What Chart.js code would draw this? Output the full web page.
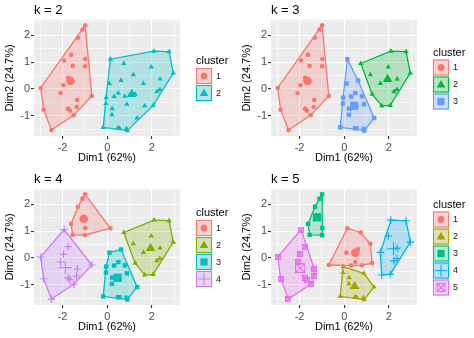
<!DOCTYPE html>
<html>
<head>
<meta charset="utf-8">
<script src="https://cdn.jsdelivr.net/npm/chart.js@4.4.1/dist/chart.umd.min.js"></script>
<style>
  body { margin: 0; background: #fff; }
  #wrap { position: relative; width: 474px; height: 338px; }
  #wrap canvas { position: absolute; }
</style>
</head>
<body>
<div id="wrap">
  <canvas id="k2" width="237" height="169" style="left:0;top:0"></canvas>
  <canvas id="k3" width="237" height="169" style="left:237px;top:0"></canvas>
  <canvas id="k4" width="237" height="169" style="left:0;top:169px"></canvas>
  <canvas id="k5" width="237" height="169" style="left:237px;top:169px"></canvas>
</div>
<script>
// PCA scores of the 50 states (first two components)
const states = ['Alabama','Alaska','Arizona','Arkansas','California','Colorado','Connecticut','Delaware','Florida','Georgia',
  'Hawaii','Idaho','Illinois','Indiana','Iowa','Kansas','Kentucky','Louisiana','Maine','Maryland',
  'Massachusetts','Michigan','Minnesota','Mississippi','Missouri','Montana','Nebraska','Nevada','New Hampshire','New Jersey',
  'New Mexico','New York','North Carolina','North Dakota','Ohio','Oklahoma','Oregon','Pennsylvania','Rhode Island','South Carolina',
  'South Dakota','Tennessee','Texas','Utah','Vermont','Virginia','Washington','West Virginia','Wisconsin','Wyoming'];

const dim1 = [-0.98, -1.93, -1.75, 0.14, -2.50, -1.50, 1.34, -0.05, -2.98, -1.62,
  0.90, 1.62, -1.37, 0.50, 2.23, 0.79, 0.74, -1.55, 2.37, -1.75,
  0.48, -2.09, 1.68, -0.99, -0.69, 1.17, 1.25, -2.85, 2.36, -0.18,
  -1.96, -1.67, -1.11, 2.96, 0.22, 0.31, -0.06, 0.88, 0.86, -1.31,
  1.97, -0.99, -1.34, 0.55, 2.77, 0.10, 0.21, 2.09, 2.06, 0.62];

const dim2 = [1.12, 1.06, -0.74, 1.11, -1.53, -0.98, -1.08, -0.32, 0.04, 1.27,
  -1.55, 0.21, -0.67, -0.15, -0.10, -0.27, 0.95, 0.86, 0.37, 0.42,
  -1.46, -0.15, -0.63, 2.37, -0.26, 0.53, -0.19, -0.77, -0.02, -1.43,
  0.14, -0.81, 2.21, 0.59, -0.73, -0.28, -0.54, -0.57, -1.48, 1.91,
  0.82, 0.85, -0.41, -1.46, 1.39, 0.20, -0.96, 1.41, -0.61, 0.32];

// cluster membership for each k
const clusterK2 = [1,1,1,2,1,1,2,2,1,1, 2,2,1,2,2,2,2,1,2,1, 2,1,2,1,1,2,2,1,2,2, 1,1,1,2,2,2,2,2,2,1, 2,1,1,2,2,2,2,2,2,2];
const clusterK3 = [1,1,1,3,1,1,3,3,1,1, 3,2,1,3,2,3,2,1,2,1, 3,1,2,1,1,2,2,1,2,3, 1,1,1,2,3,3,3,3,3,1, 2,1,1,3,2,3,3,2,2,3];
const clusterK4 = [1,4,4,1,4,4,3,3,4,1, 3,2,4,3,2,3,2,1,2,4, 3,4,2,1,4,2,2,4,2,3, 4,4,1,2,3,3,3,3,3,1, 2,1,4,3,2,3,3,2,2,3];
const clusterK5 = [3,5,5,1,5,5,2,2,5,3, 2,4,5,1,4,1,1,3,4,5, 2,5,4,3,1,1,1,5,4,2, 5,5,3,4,2,1,2,2,2,3, 4,3,5,2,4,1,2,4,4,1];

// axis ticks: labelled majors and unlabelled minor grid lines
const xTicks = [-2, 0, 2];
const xMinor = [-3, -1, 1, 3];
const yTicks = [-1, 0, 1, 2];
const yMinor = [-1.5, -0.5, 0.5, 1.5, 2.5];

const colorsK2 = ['#F8766D', '#00BFC4'];
const colorsK3 = ['#F8766D', '#00BA38', '#619CFF'];
const colorsK4 = ['#F8766D', '#7CAE00', '#00BFC4', '#C77CFF'];
const colorsK5 = ['#F8766D', '#A3A500', '#00BF7D', '#00B0F6', '#E76BF3'];

const SHAPES = ['circle', 'triangle', 'rect', 'cross', 'boxX'];
const FONT = "'Liberation Sans', Arial, sans-serif";
const FILL_ALPHA = 0.24;

function rgba(hex, a) {
  const n = parseInt(hex.slice(1), 16);
  return `rgba(${n >> 16},${(n >> 8) & 255},${n & 255},${a})`;
}

function convexHull(pts) {
  const p = pts.slice().sort((a, b) => a.x - b.x || a.y - b.y);
  if (p.length < 3) return p;
  const cr = (o, a, b) => (a.x - o.x) * (b.y - o.y) - (a.y - o.y) * (b.x - o.x);
  const lower = [], upper = [];
  for (const q of p) {
    while (lower.length >= 2 && cr(lower[lower.length - 2], lower[lower.length - 1], q) <= 0) lower.pop();
    lower.push(q);
  }
  for (let i = p.length - 1; i >= 0; i--) {
    const q = p[i];
    while (upper.length >= 2 && cr(upper[upper.length - 2], upper[upper.length - 1], q) <= 0) upper.pop();
    upper.push(q);
  }
  lower.pop(); upper.pop();
  return lower.concat(upper);
}

// square with an X through it
function boxXImage(col, size) {
  const c = document.createElement('canvas');
  c.width = c.height = size;
  const g = c.getContext('2d');
  g.strokeStyle = col;
  g.lineWidth = 1.1;
  g.strokeRect(0.5, 0.5, size - 1, size - 1);
  g.beginPath();
  g.moveTo(0.5, 0.5); g.lineTo(size - 0.5, size - 0.5);
  g.moveTo(size - 0.5, 0.5); g.lineTo(0.5, size - 0.5);
  g.stroke();
  return c;
}

function markerStyle(shape, col, big) {
  switch (shape) {
    case 'circle':   return { pointStyle: 'circle', pointRadius: big ? 4.3 : 2.3, pointBackgroundColor: col, pointBorderWidth: 0 };
    case 'triangle': return { pointStyle: 'triangle', pointRadius: big ? 5.5 : 3.1, pointBackgroundColor: col, pointBorderWidth: 0 };
    case 'rect':     return { pointStyle: 'rect', pointRadius: big ? 5.8 : 3.1, pointBackgroundColor: col, pointBorderWidth: 0 };
    case 'cross':    return { pointStyle: 'cross', pointRadius: big ? 6.5 : 3.8, pointBorderColor: col, pointBorderWidth: 1.1 };
    default:         return { pointStyle: boxXImage(col, big ? 10 : 6), pointRadius: big ? 5 : 3 };
  }
}

function buildDatasets(assign, colors) {
  const sets = [];
  colors.forEach((col, i) => {
    const pts = [];
    assign.forEach((c, j) => { if (c === i + 1) pts.push({ x: dim1[j], y: dim2[j] }); });
    const hull = convexHull(pts);
    hull.push(hull[0]);
    const cx = pts.reduce((s, p) => s + p.x, 0) / pts.length;
    const cy = pts.reduce((s, p) => s + p.y, 0) / pts.length;
    sets.push({
      type: 'line', data: hull, borderColor: col, borderWidth: 1.3,
      backgroundColor: rgba(col, FILL_ALPHA), fill: 'shape', pointRadius: 0, tension: 0, order: 3
    });
    sets.push(Object.assign({ data: pts, order: 2 }, markerStyle(SHAPES[i], col, false)));
    sets.push(Object.assign({ data: [{ x: cx, y: cy }], order: 1 }, markerStyle(SHAPES[i], col, true)));
  });
  return sets;
}

// legend key marker
function drawMarker(ctx, shape, col, x, y) {
  ctx.save();
  ctx.fillStyle = col;
  ctx.strokeStyle = col;
  ctx.lineWidth = 1.1;
  ctx.beginPath();
  if (shape === 'circle') {
    ctx.arc(x, y, 3.4, 0, Math.PI * 2); ctx.fill();
  } else if (shape === 'triangle') {
    ctx.moveTo(x, y - 4.5); ctx.lineTo(x + 4.4, y + 3.1); ctx.lineTo(x - 4.4, y + 3.1); ctx.closePath(); ctx.fill();
  } else if (shape === 'rect') {
    ctx.fillRect(x - 3.6, y - 3.6, 7.2, 7.2);
  } else if (shape === 'cross') {
    ctx.moveTo(x - 6, y); ctx.lineTo(x + 6, y); ctx.moveTo(x, y - 6); ctx.lineTo(x, y + 6); ctx.stroke();
  } else {
    ctx.strokeRect(x - 4, y - 4, 8, 8);
    ctx.moveTo(x - 4, y - 4); ctx.lineTo(x + 4, y + 4); ctx.moveTo(x + 4, y - 4); ctx.lineTo(x - 4, y + 4); ctx.stroke();
  }
  ctx.restore();
}

const panelDecor = {
  id: 'panelDecor',
  beforeDraw(chart) {
    const { ctx, chartArea: a } = chart;
    ctx.save();
    ctx.fillStyle = '#EBEBEB';
    ctx.fillRect(a.left, a.top, a.right - a.left, a.bottom - a.top);
    ctx.restore();
  },
  afterDraw(chart, args, opts) {
    const { ctx, chartArea: a } = chart;
    ctx.save();
    ctx.fillStyle = '#000';
    ctx.textBaseline = 'middle';
    ctx.textAlign = 'left';
    ctx.font = `13px ${FONT}`;
    ctx.fillText(opts.title, 34, 10);

    // legend, centred on the panel
    const n = opts.colors.length;
    const keyH = 16, gap = 1, titleH = 14;
    let y = (a.top + a.bottom) / 2 - (titleH + n * (keyH + gap)) / 2;
    const lx = 196;
    ctx.font = `11px ${FONT}`;
    ctx.fillText('cluster', lx, y + 7);
    y += titleH;
    opts.colors.forEach((col, i) => {
      ctx.fillStyle = '#F2F2F2';
      ctx.fillRect(lx, y, 16, keyH);
      ctx.fillStyle = rgba(col, FILL_ALPHA);
      ctx.fillRect(lx, y, 16, keyH);
      ctx.strokeStyle = col;
      ctx.lineWidth = 1.1;
      ctx.strokeRect(lx + 0.5, y + 0.5, 15, keyH - 1);
      drawMarker(ctx, SHAPES[i], col, lx + 8, y + keyH / 2);
      ctx.fillStyle = '#1A1A1A';
      ctx.font = `9px ${FONT}`;
      ctx.fillText(String(i + 1), lx + 20, y + keyH / 2 + 0.5);
      y += keyH + gap;
    });
    ctx.restore();
  }
};

function axis(major, minor, min, max, title, horizontal) {
  const all = major.concat(minor).sort((a, b) => a - b);
  const isMajor = c => c.tick && major.includes(c.tick.value);
  return {
    type: 'linear', min, max,
    afterBuildTicks: s => { s.ticks = all.map(v => ({ value: v })); },
    afterFit: s => { if (horizontal) s.height = 33; else s.width = 34; },
    ticks: {
      autoSkip: false, maxRotation: 0, padding: horizontal ? 2 : 1,
      color: '#4D4D4D', font: { size: 11, family: FONT },
      callback: v => major.includes(v) ? String(v) : ''
    },
    grid: {
      color: '#FFFFFF',
      lineWidth: c => isMajor(c) ? 1.1 : 0.55,
      tickColor: c => isMajor(c) ? '#333333' : 'rgba(0,0,0,0)',
      tickLength: 3
    },
    border: { display: false },
    title: {
      display: true, text: title, color: '#000', font: { size: 11, family: FONT },
      padding: horizontal ? { top: 0, bottom: 4.4 } : { top: 3.4, bottom: 0 }
    }
  };
}

function makePanel(id, title, assign, colors) {
  new Chart(document.getElementById(id), {
    type: 'scatter',
    data: { datasets: buildDatasets(assign, colors) },
    options: {
      responsive: false,
      animation: false,
      events: [],
      layout: { padding: { top: 20, right: 57, left: 0, bottom: 0 } },
      plugins: {
        legend: { display: false },
        tooltip: { enabled: false },
        panelDecor: { title, colors }
      },
      scales: {
        x: axis(xTicks, xMinor, -3.28, 3.26, 'Dim1 (62%)', true),
        y: axis(yTicks, yMinor, -1.75, 2.57, 'Dim2 (24.7%)', false)
      }
    },
    plugins: [panelDecor]
  });
}

makePanel('k2', 'k = 2', clusterK2, colorsK2);
makePanel('k3', 'k = 3', clusterK3, colorsK3);
makePanel('k4', 'k = 4', clusterK4, colorsK4);
makePanel('k5', 'k = 5', clusterK5, colorsK5);
</script>
</body>
</html>
